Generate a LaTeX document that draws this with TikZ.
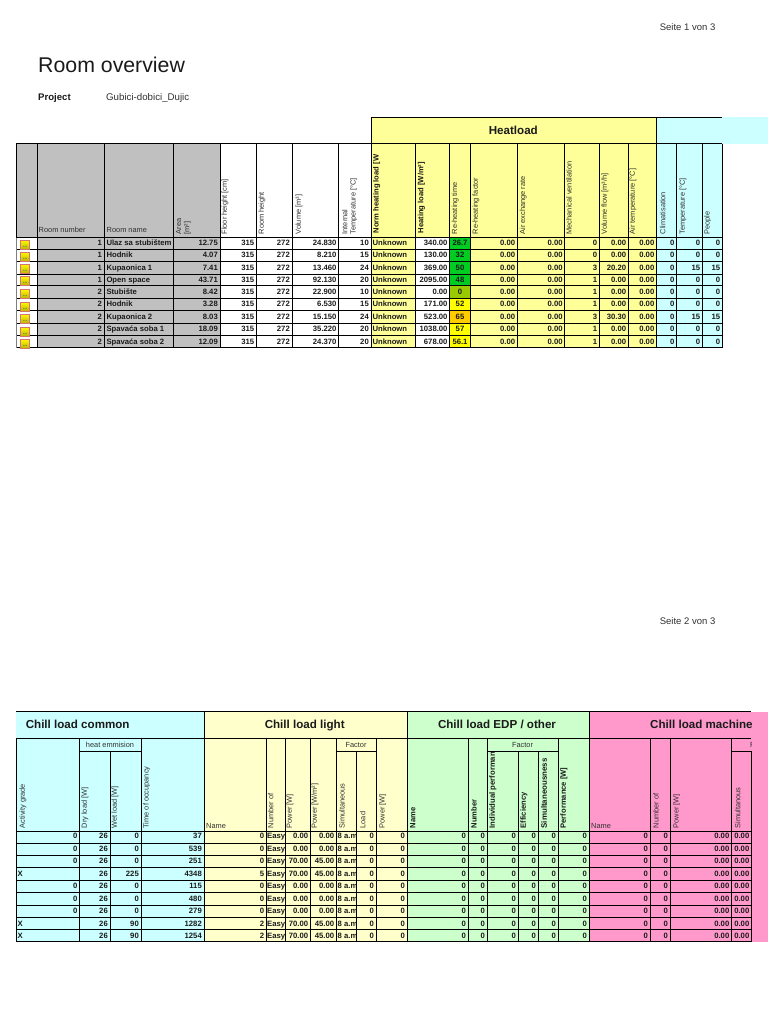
\documentclass[tikz,border=0pt]{standalone}
\usepackage{fontspec}
\setmainfont{Liberation Sans}
\definecolor{cgray}{HTML}{C0C0C0}
\definecolor{cyel}{HTML}{FFFF99}
\definecolor{ccy}{HTML}{CCFFFF}
\definecolor{cly}{HTML}{FFFFCC}
\definecolor{cgr}{HTML}{CCFFCC}
\definecolor{cpk}{HTML}{FF99CC}
\definecolor{ink}{HTML}{1A1A1A}
\definecolor{soft}{HTML}{303030}
\tikzset{
  grid/.style={draw=black,line width=0.8pt},
  num/.style={font=\fontsize{7.7}{8}\selectfont\bfseries,text=ink,anchor=east,inner sep=0pt,text height=5.5pt,text depth=0pt},
  txt/.style={num,anchor=west},
  ctr/.style={num,anchor=center},
  head/.style={font=\fontsize{7.4}{8.2}\selectfont,text=soft,inner sep=0pt,text depth=0pt},
  vhead/.style={font=\fontsize{7.4}{8.2}\selectfont,text=soft,rotate=90,anchor=west,inner sep=0pt,align=left},
  vbold/.style={vhead,font=\fontsize{7.6}{8.2}\selectfont\bfseries,text=ink},
  band/.style={font=\fontsize{11.6}{14}\selectfont\bfseries,text=ink,inner sep=0pt,text height=8.4pt,text depth=0pt},
  pagenum/.style={font=\fontsize{9.5}{11}\selectfont,text=soft,anchor=east,inner sep=0pt},
  iconbox/.style={draw=cgray!60!red,line width=0.6pt,top color=yellow!95!orange,bottom color=yellow!70!black,minimum width=9.5pt,minimum height=9.5pt,inner sep=0pt},
}
\begin{document}
\begin{tikzpicture}[x=1pt,y=-1pt]
\useasboundingbox (0,0) rectangle (768,1024);
\node[pagenum] (page1) at (715.5,27) {Seite 1 von 3};
\node[pagenum] (page2) at (715.5,621) {Seite 2 von 3};
\node[font=\fontsize{21.3}{24}\selectfont,text=ink,anchor=west,inner sep=0pt] (title) at (38,65) {Room overview};
\node[font=\fontsize{9.6}{11}\selectfont\bfseries,text=ink,anchor=west,inner sep=0pt] (projl) at (38,98) {Project};
\node[font=\fontsize{9.7}{11}\selectfont,text=soft,anchor=west,inner sep=0pt] (projv) at (106,98) {Gubici-dobici\_Dujic};
% ===== Table 1 fills
\fill[cgray] (16,144) rectangle (220,237);
\fill[cgray] (37,237) rectangle (220,347.7);
\fill[cyel] (371,117.5) rectangle (656,237);
\fill[cyel] (371,237) rectangle (415,347.7);
\fill[white] (415,237) rectangle (449,347.7);
\fill[cyel] (470,237) rectangle (656,347.7);
\fill[ccy] (656,117.5) rectangle (768,144);
\fill[ccy] (656,144) rectangle (722,347.7);
% reheat cells
\def\ry{{237.5,249,261.7,274,285.7,298,310.7,323,335.7,347.7}}
\foreach \i/\c in {0/00CC22,1/00CC22,2/00CC22,3/00CC22,4/99CC00,5/FFFF00,6/FFCC00,7/FFFF00,8/FFFF00}{
  \definecolor{tmpc}{HTML}{\c}
  \pgfmathsetmacro\ya{\ry[\i]}
  \pgfmathtruncatemacro\j{\i+1}
  \pgfmathsetmacro\yb{\ry[\j]}
  \fill[tmpc] (449,\ya) rectangle (470,\yb);
}
% grid 1
\draw[grid] (16,143.7) -- (722,143.7);
\draw[grid] (371,117.5) -- (722,117.5);
\draw[grid] (371,117.5) -- (371,144);
\draw[grid] (656,117.5) -- (656,144);
\foreach \x in {16,37,104,173,220,256,292,338,371,415,449,470,517,564,599,628,656,676,702,722}
  \draw[grid] (\x,144) -- (\x,237.5);
\foreach \x in {37,104,173,220,256,292,338,371,415,449,470,517,564,599,628,656,676,702,722}
  \draw[grid] (\x,237.5) -- (\x,347.7);
\foreach \y in {237.5,249,261.7,274,285.7,298,310.7,323,335.7,347.7}
  \draw[grid] (16,\y) -- (722,\y);
\draw[draw=black!50,line width=0.4pt] (16,237.5) -- (16,347.7);
% icons
\foreach \y [count=\n] in {245,257,269,281,294,307,319,332,344}{
  \node[iconbox] (icon\n) at (25,\y) {};
  \fill[black!55] (icon\n.center) ++(-1.6,0.8) rectangle ++(1,1) ++(1.2,-1) rectangle ++(1,1);
}
% header text table 1
\node[head,anchor=base west] (h1) at (38.5,232.8) {Room number};
\node[head,anchor=base west] (h2) at (106.5,232.8) {Room name};
\node[vhead] (h3) at (183.5,234.5) {Area\\{}[m²]};
\node[vhead] (h4) at (225,234.5) {Floor height [cm]};
\node[vhead] (h5) at (262,234.5) {Room height};
\node[vhead] (h6) at (299,234.5) {Volume [m³]};
\node[vhead] (h7) at (349.5,234.5) {Internal\\Temperature [°C]};
\node[vbold] (h8) at (376.7,233.5) {Norm heating load [W};
\node[vbold] (h9) at (421.5,233.5) {Heating load [W/m²]};
\node[vhead] (h10) at (455.3,234.5) {Re-heating time};
\node[vhead] (h11) at (476,234.5) {Re-heating factor};
\node[vhead] (h12) at (523.3,234.5) {Air exchange rate};
\node[vhead] (h13) at (569,234.5) {Mechanical ventilation};
\node[vhead] (h14) at (605,234.5) {Volume flow [m³/h]};
\node[vhead] (h15) at (633,234.5) {Air temperature [°C]};
\node[vhead] (h16) at (662.7,234.5) {Climatisation};
\node[vhead] (h17) at (683,234.5) {Temperature [°C]};
\node[vhead] (h18) at (707.7,234.5) {People};
\node[band] (heat) at (513.3,130.4) {Heatload};
% data table 1
\foreach \n/\y/\fl/\nm/\ar/\vol/\tm/\hl/\rh/\mv/\vf/\tp/\pp in {
 1/242.6/1/Ulaz sa stubištem/12.75/24.830/10/340.00/26.7/0/0.00/0/0,
 2/254.6/1/Hodnik/4.07/8.210/15/130.00/32/0/0.00/0/0,
 3/267.7/1/Kupaonica 1/7.41/13.460/24/369.00/50/3/20.20/15/15,
 4/279.7/1/Open space/43.71/92.130/20/2095.00/48/1/0.00/0/0,
 5/291.7/2/Stubište/8.42/22.900/10/0.00/0/1/0.00/0/0,
 6/304/2/Hodnik/3.28/6.530/15/171.00/52/1/0.00/0/0,
 7/316.4/2/Kupaonica 2/8.03/15.150/24/523.00/65/3/30.30/15/15,
 8/329/2/Spavaća soba 1/18.09/35.220/20/1038.00/57/1/0.00/0/0,
 9/341.4/2/Spavaća soba 2/12.09/24.370/20/678.00/56.1/1/0.00/0/0}{
  \node[num] (a\n a) at (102,\y) {\fl};
  \node[txt] (a\n b) at (106.3,\y) {\nm};
  \node[num] (a\n c) at (218,\y) {\ar};
  \node[num] (a\n d) at (254.3,\y) {315};
  \node[num] (a\n e) at (290,\y) {272};
  \node[num] (a\n f) at (336.7,\y) {\vol};
  \node[num] (a\n g) at (369,\y) {\tm};
  \node[txt] (a\n h) at (372.3,\y) {Unknown};
  \node[num] (a\n i) at (447.7,\y) {\hl};
  \node[ctr] (a\n j) at (460,\y) {\rh};
  \node[num] (a\n k) at (515.3,\y) {0.00};
  \node[num] (a\n l) at (562.8,\y) {0.00};
  \node[num] (a\n m) at (597.3,\y) {\mv};
  \node[num] (a\n n) at (626.3,\y) {\vf};
  \node[num] (a\n o) at (654.5,\y) {0.00};
  \node[num] (a\n p) at (674.7,\y) {0};
  \node[num] (a\n q) at (700.3,\y) {\tp};
  \node[num] (a\n r) at (720.3,\y) {\pp};
}
% ===== Table 2 fills
\fill[ccy] (16,711.7) rectangle (204,941.7);
\fill[cly] (204,711.7) rectangle (407,941.7);
\fill[cgr] (407,711.7) rectangle (589,941.7);
\fill[cpk] (589,711.7) rectangle (768,941.7);
\draw[grid] (16,711.7) -- (751,711.7);
\draw[grid] (16,738) -- (751,738);
\foreach \x in {204,407,589} \draw[grid] (\x,711.7) -- (\x,738);
\draw[grid] (79.5,751.3) -- (141,751.3);
\draw[grid] (336,751.3) -- (376,751.3);
\draw[grid] (487,751.3) -- (558,751.3);
\draw[grid] (731,751.3) -- (751,751.3);
\foreach \x in {16,79.5,141,204,266,285,310,336,376,407,468,487,558,589,650,670,731}
  \draw[grid] (\x,738) -- (\x,941.7);
\draw[grid] (751,751.3) -- (751,941.7);
\foreach \x in {110,356,518,538}
  \draw[grid] (\x,751.3) -- (\x,941.7);
\foreach \y in {831.5,843,855.3,867.7,880,892.7,905,917.3,929.7,941.7}
  \draw[grid] (16,\y) -- (751,\y);
% header bands
\node[band,anchor=west] (b1) at (25.6,724.5) {Chill load common};
\node[band] (b2) at (304.7,724.5) {Chill load light};
\node[band] (b3) at (497,724.5) {Chill load EDP / other};
\begin{scope}
  \clip (640,712) rectangle (751,737);
  \node[band,anchor=west] (b4) at (650,724.5) {Chill load machine};
\end{scope}
\node[head] (s1) at (110,744.7) {heat emmision};
\node[head] (s2) at (356,744.7) {Factor};
\node[head] (s3) at (522.5,744.7) {Factor};
\begin{scope}
  \clip (740,739) rectangle (751,750.5);
  \node[head,anchor=west] (s4) at (750,744.7) {F};
\end{scope}
% vertical headers table 2
\node[vhead] (t1) at (23,828.5) {Activity grade};
\node[vhead] (t2) at (85,828.5) {Dry load [W]};
\node[vhead] (t3) at (115,828.5) {Wet load [W]};
\node[vhead] (t4) at (146.7,828.5) {Time of occupancy};
\node[head,anchor=base west] (t5) at (206,828) {Name};
\node[vhead] (t6) at (270.7,828.5) {Number of};
\node[vhead] (t7) at (290,828.5) {Power [W]};
\node[vhead] (t8) at (315,828.5) {Power [W/m²]};
\node[vhead] (t9) at (342,828.5) {Simultaneous};
\node[vhead] (t10) at (362.7,828.5) {Load};
\node[vhead] (t11) at (382.7,828.5) {Power [W]};
\node[vbold] (t12) at (412.7,828.5) {Name};
\node[vbold] (t13) at (474,828.5) {Number};
\node[vbold,font=\fontsize{7.7}{8.2}\selectfont\bfseries] (t14) at (493,828.5) {Individual performan};
\node[vbold] (t15) at (524,828.5) {Efficiency};
\node[vbold,font=\fontsize{7.9}{8.2}\selectfont\bfseries] (t16) at (544,828.5) {Simultaneousness};
\node[vbold] (t17) at (564,828.5) {Performance [W]};
\node[head,anchor=base west] (t18) at (591,828) {Name};
\node[vhead] (t19) at (656,828.5) {Number of};
\node[vhead] (t20) at (676.7,828.5) {Power [W]};
\node[vhead] (t21) at (737.7,828.5) {Simultanous};
% data table 2
\foreach \n/\y/\ag/\wet/\occ/\lc/\pa/\pb in {
 1/836.2/0/0/37/0/0.00/0.00,
 2/848.4/0/0/539/0/0.00/0.00,
 3/861/0/0/251/0/70.00/45.00,
 4/873.4/X/225/4348/5/70.00/45.00,
 5/886/0/0/115/0/0.00/0.00,
 6/898.4/0/0/480/0/0.00/0.00,
 7/910.4/0/0/279/0/0.00/0.00,
 8/923.3/X/90/1282/2/70.00/45.00,
 9/935.4/X/90/1254/2/70.00/45.00}{
  \if\ag X
    \node[txt] (d\n a) at (17.5,\y) {X};
  \else
    \node[num] (d\n a) at (77.5,\y) {\ag};
  \fi
  \node[num] (d\n b) at (108,\y) {26};
  \node[num] (d\n c) at (139,\y) {\wet};
  \node[num] (d\n d) at (202,\y) {\occ};
  \node[num] (d\n e) at (264.3,\y) {\lc};
  \begin{scope}
    \clip (266.5,\y-5) rectangle (284.6,\y+5);
    \node[txt] (d\n f) at (267,\y) {Easy};
  \end{scope}
  \node[num] (d\n g) at (308.3,\y) {\pa};
  \node[num] (d\n h) at (334.3,\y) {\pb};
  \begin{scope}
    \clip (336.5,\y-5) rectangle (355.6,\y+5);
    \node[txt] (d\n i) at (337.5,\y) {8 a.m};
  \end{scope}
  \node[num] (d\n j) at (374,\y) {0};
  \node[num] (d\n k) at (405,\y) {0};
  \node[num] (d\n l) at (466,\y) {0};
  \node[num] (d\n m) at (485,\y) {0};
  \node[num] (d\n n) at (516,\y) {0};
  \node[num] (d\n o) at (536,\y) {0};
  \node[num] (d\n p) at (556,\y) {0};
  \node[num] (d\n q) at (587,\y) {0};
  \node[num] (d\n r) at (648,\y) {0};
  \node[num] (d\n s) at (668,\y) {0};
  \node[num] (d\n t) at (729.5,\y) {0.00};
  \node[num] (d\n u) at (749.5,\y) {0.00};
}
\end{tikzpicture}
\end{document}
